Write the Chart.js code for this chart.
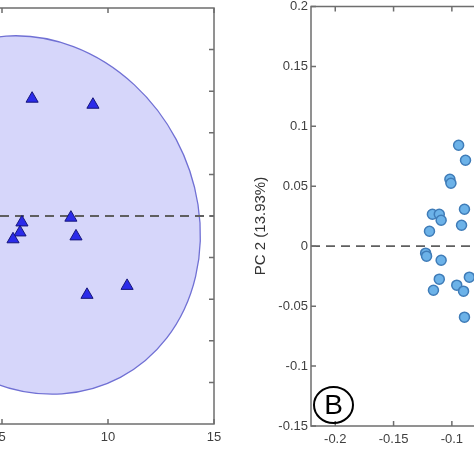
<!DOCTYPE html>
<html><head><meta charset="utf-8">
<script src="https://cdn.jsdelivr.net/npm/chart.js@4"></script>
<style>
html,body{margin:0;padding:0;width:474px;height:474px;overflow:hidden;background:#fff;}
canvas{position:absolute;top:0;}
#cA{left:-230px;}
#cB{left:240px;}
</style></head><body>
<canvas id="cA" width="460" height="474"></canvas>
<canvas id="cB" width="300" height="474"></canvas>
<script>
const FONT = "'Liberation Sans', Arial, sans-serif";

// ---- Panel A data ----
const triX = [6.42, 9.29, 5.94, 5.85, 5.52, 8.25, 8.49, 9.01, 10.90];
const triY = [5.64, 5.35, -0.31, -0.79, -1.12, -0.08, -0.98, -3.79, -3.36];
const ellipseCenter = [6.51, 0.05];
const ellipseRadii = [8.68, 7.74];
const ellipseAngle = 62;
const aXTicks = [-5, 0, 5, 10, 15];
const aYTicks = [-8, -6, -4, -2, 0, 2, 4, 6, 8];

// ---- Panel B data ----
const dotX = [-0.0942, -0.0883, -0.1017, -0.1008, -0.0892, -0.1167, -0.1108, -0.1092, -0.0917, -0.1192,
              -0.1225, -0.1217, -0.1092, -0.1108, -0.1158, -0.0958, -0.0900, -0.0850, -0.0892];
const dotY = [0.0842, 0.0717, 0.0558, 0.0525, 0.0308, 0.0267, 0.0267, 0.0217, 0.0175, 0.0125,
              -0.0058, -0.0083, -0.0117, -0.0275, -0.0367, -0.0325, -0.0375, -0.0258, -0.0592];
const bXTicks = [-0.2, -0.15, -0.1, -0.05];
const bYTicks = [-0.15, -0.1, -0.05, 0, 0.05, 0.1, 0.15, 0.2];
const bYLabel = 'PC 2 (13.93%)';
const panelTag = 'B';

const FRAME = '#6e6e6e';
const TICKCOL = '#3f3f3f';

function fmt(v){ return String(+(+v).toFixed(2)); }

function boxPlugin(extra){
  return {
    id: 'box',
    beforeDatasetsDraw(chart){
      const ctx = chart.ctx, a = chart.chartArea, xs = chart.scales.x, ys = chart.scales.y;
      ctx.save();
      ctx.beginPath(); ctx.rect(a.left, a.top, a.right - a.left, a.bottom - a.top); ctx.clip();
      if (extra.ellipse) {
        const cx = xs.getPixelForValue(ellipseCenter[0]), cy = ys.getPixelForValue(ellipseCenter[1]);
        const rx = Math.abs(xs.getPixelForValue(ellipseCenter[0] + ellipseRadii[0]) - cx);
        const ry = Math.abs(ys.getPixelForValue(ellipseCenter[1] + ellipseRadii[1]) - cy);
        ctx.beginPath();
        ctx.ellipse(cx, cy, rx, ry, ellipseAngle * Math.PI / 180, 0, Math.PI * 2);
        ctx.fillStyle = 'rgb(214,214,250)';
        ctx.fill();
        ctx.lineWidth = 1.3;
        ctx.strokeStyle = 'rgb(112,112,212)';
        ctx.stroke();
      }
      const y0 = ys.getPixelForValue(0);
      ctx.beginPath();
      ctx.setLineDash([9, 6]);
      ctx.lineWidth = 1.8;
      ctx.strokeStyle = '#5f5f5f';
      ctx.moveTo(a.left, y0); ctx.lineTo(a.right, y0);
      ctx.stroke();
      ctx.restore();
    },
    afterDatasetsDraw(chart){
      const ctx = chart.ctx, a = chart.chartArea, xs = chart.scales.x, ys = chart.scales.y;
      ctx.save();
      ctx.strokeStyle = FRAME;
      ctx.lineWidth = 1.5;
      ctx.strokeRect(a.left, a.top, a.right - a.left, a.bottom - a.top);
      const L = 5;
      ctx.beginPath();
      xs.ticks.forEach(t => {
        const p = xs.getPixelForValue(t.value);
        ctx.moveTo(p, a.bottom); ctx.lineTo(p, a.bottom - L);
        ctx.moveTo(p, a.top); ctx.lineTo(p, a.top + L);
      });
      extra.yTicks.forEach(v => {
        const p = ys.getPixelForValue(v);
        ctx.moveTo(a.left, p); ctx.lineTo(a.left + L, p);
        ctx.moveTo(a.right, p); ctx.lineTo(a.right - L, p);
      });
      ctx.stroke();
      if (extra.title) {
        ctx.save();
        ctx.translate(a.left - 50, 226);
        ctx.rotate(-Math.PI / 2);
        ctx.font = '15px ' + FONT;
        ctx.fillStyle = '#333';
        ctx.textAlign = 'center';
        ctx.textBaseline = 'middle';
        ctx.fillText(bYLabel, 0, 0);
        ctx.restore();
      }
      if (extra.tag) {
        const tx = a.left + 22.5, ty = a.bottom - 21;
        ctx.beginPath();
        ctx.ellipse(tx, ty, 19.5, 18, 0, 0, Math.PI * 2);
        ctx.lineWidth = 2;
        ctx.strokeStyle = '#000';
        ctx.stroke();
        ctx.font = '28px ' + FONT;
        ctx.fillStyle = '#000';
        ctx.textAlign = 'center';
        ctx.textBaseline = 'middle';
        ctx.fillText(panelTag, tx, ty + 1);
      }
      ctx.restore();
    }
  };
}

function axis(min, max, ticks, opts){
  return Object.assign({
    type: 'linear', min: min, max: max,
    grid: { display: false, drawTicks: false },
    border: { display: false },
    afterBuildTicks: s => { s.ticks = ticks.map(v => ({ value: v })); },
    ticks: { font: { family: FONT, size: 13 }, color: TICKCOL, padding: 6, callback: v => fmt(v) }
  }, opts);
}

// Panel A chart
new Chart(document.getElementById('cA'), {
  type: 'scatter',
  data: { datasets: [{
    data: triX.map((x, i) => ({ x: x, y: triY[i] })),
    pointStyle: 'triangle', pointRadius: 7,
    backgroundColor: '#2b2bea', borderColor: '#16167a', borderWidth: 1
  }]},
  options: {
    responsive: false, animation: false,
    layout: { padding: { top: 4, right: 16, left: 0, bottom: 0 } },
    plugins: { legend: { display: false }, tooltip: { enabled: false } },
    scales: {
      x: axis(-5, 15, aXTicks, { afterFit: s => { s.height = 50; s.paddingLeft = 0; s.paddingRight = 0; } }),
      y: axis(-10, 10, aYTicks, {
        afterFit: s => { s.width = 20; s.paddingTop = 0; s.paddingBottom = 0; },
        ticks: { display: false }
      })
    }
  },
  plugins: [boxPlugin({ ellipse: true, yTicks: aYTicks })]
});

// Panel B chart
new Chart(document.getElementById('cB'), {
  type: 'scatter',
  data: { datasets: [{
    data: dotX.map((x, i) => ({ x: x, y: dotY[i] })),
    pointStyle: 'circle', pointRadius: 5,
    backgroundColor: '#6cb2e8', borderColor: '#3f7cb8', borderWidth: 1.5
  }]},
  options: {
    responsive: false, animation: false,
    layout: { padding: { top: 5, right: 0, left: 0, bottom: 0 } },
    plugins: { legend: { display: false }, tooltip: { enabled: false } },
    scales: {
      x: axis(-0.2208, -0.03, bXTicks, { afterFit: s => { s.height = 48; s.paddingLeft = 0; s.paddingRight = 0; } }),
      y: axis(-0.15, 0.2, bYTicks, {
        afterFit: s => { s.width = 71; s.paddingTop = 0; s.paddingBottom = 0; },
        ticks: { font: { family: FONT, size: 13 }, color: TICKCOL, padding: 3, callback: v => fmt(v) }
      })
    }
  },
  plugins: [boxPlugin({ yTicks: bYTicks, title: true, tag: true })]
});
</script>
</body></html>
